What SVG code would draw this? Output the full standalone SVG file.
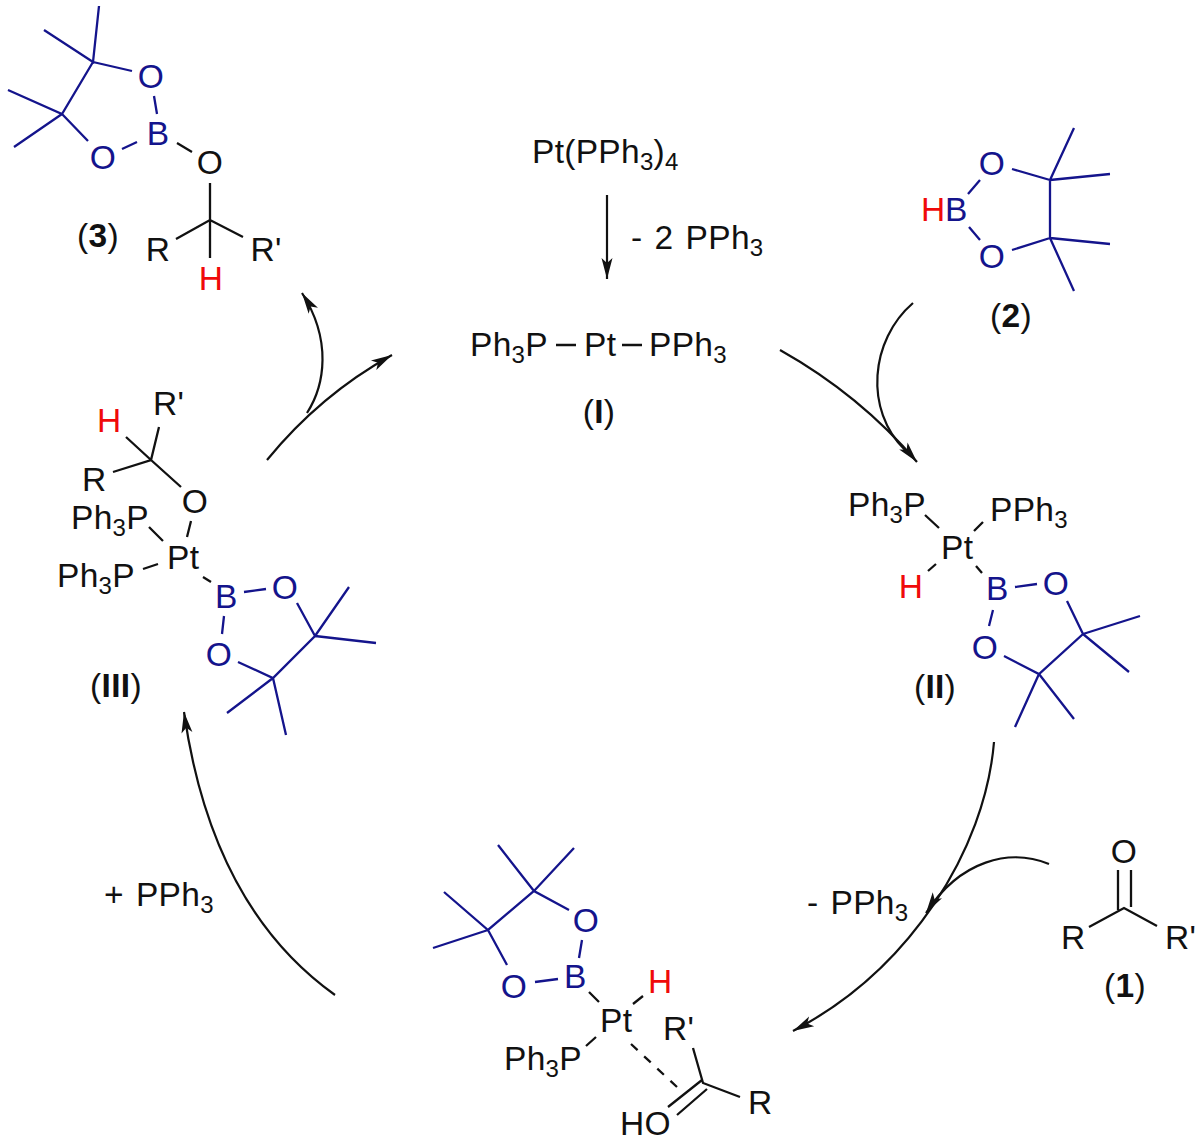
<svg xmlns="http://www.w3.org/2000/svg" width="1200" height="1144" viewBox="0 0 1200 1144">
<style>
text{font-family:"Liberation Sans",Arial,sans-serif;font-size:33.5px;letter-spacing:.3px;word-spacing:2.5px;fill:#111}
.b{fill:#14148c}
.r{fill:#f00a0a}
.lb{fill:none;stroke:#14148c;stroke-width:2.3}
.lk{fill:none;stroke:#111;stroke-width:2.3}
.d{stroke-dasharray:9 9}
.s{font-size:24px}
.n{font-weight:700}
.m{text-anchor:middle}
.a{fill:none;stroke:#111;stroke-width:2.2}
</style>
<defs>
<marker id="ah" markerUnits="userSpaceOnUse" markerWidth="24" markerHeight="16" refX="21" refY="8" orient="auto">
<path d="M0,2.5 L21,8 L0,13.500 L5,8 Z" fill="#111"/>
</marker>
</defs>
<rect width="1200" height="1144" fill="#fff"/>
<g id="connectors">
<path class="a" marker-end="url(#ah)" d="M607,195 L607,279"/>
<path class="a" marker-end="url(#ah)" d="M780,350 Q860,395 917,462"/>
<path class="a" d="M913,303 C870,340 864,410 905,450"/>
<path class="a" marker-end="url(#ah)" d="M994,742 C985,850 910,970 793,1031"/>
<path class="a" marker-end="url(#ah)" d="M1049,864 C1010,848 960,860 926,913"/>
<path class="a" marker-end="url(#ah)" d="M335,995 C265,945 205,860 184,712"/>
<path class="a" marker-end="url(#ah)" d="M267,460 Q320,395 392,355"/>
<path class="a" marker-end="url(#ah)" d="M307,413 C325,385 332,340 302,293"/>
</g>
<g id="pre-catalyst">
<text x="532" y="163">Pt(PPh<tspan class="s" dy="7">3</tspan><tspan dy="-7">)</tspan><tspan class="s" dy="7">4</tspan></text>
<text x="631" y="249">- 2 PPh<tspan class="s" dy="7">3</tspan></text>
</g>
<g id="compound-3">
<path class="lb" d="M99,6 L93,62 L44,30 M93,62 L132,71 M93,62 L62,114 L8,90 M62,114 L14,147 M62,114 L88,141 M154,96 L157,114 M122,149 L137,142"/>
<path class="lk" d="M177,143 L192,152 M210,183 L210,258 M176,239 L210,220 L243,237"/>
<text class="b m" x="151" y="88">O</text>
<text class="b m" x="103" y="169">O</text>
<text class="b m" x="158" y="145">B</text>
<text class="m" x="210" y="174">O</text>
<text class="m" x="158" y="261">R</text>
<text class="m" x="266" y="261">R'</text>
<text class="r m" x="211" y="290">H</text>
<text class="m" x="98" y="247">(<tspan class="n">3</tspan>)</text>
</g>
<g id="compound-2">
<path class="lb" d="M968,194 L980,180 M969,227 L980,240 M1012,169 L1050,180 L1050,238 L1012,250 M1050,180 L1074,128 M1050,180 L1110,174 M1050,238 L1110,244 M1050,238 L1074,291"/>
<text class="r" x="921" y="221">H</text>
<text class="b" x="945" y="221">B</text>
<text class="b m" x="992" y="175">O</text>
<text class="b m" x="992" y="268">O</text>
<text class="m" x="1011" y="327">(<tspan class="n">2</tspan>)</text>
</g>
<g id="complex-I">
<path class="lk" d="M556,345 L576,345 M622,345 L642,345"/>
<text x="470" y="356">Ph<tspan class="s" dy="7">3</tspan><tspan dy="-7">P</tspan></text>
<text x="584" y="356">Pt</text>
<text x="649" y="356">PPh<tspan class="s" dy="7">3</tspan></text>
<text class="m" x="599" y="423">(<tspan class="n">I</tspan>)</text>
</g>
<g id="complex-II">
<path class="lk" d="M925,515 L939,528 M974,531 L983,522 M928,571 L936,564 M976,566 L982,573"/>
<path class="lb" d="M1015,587 L1037,584 M993,610 L989,626 M1067,601 L1083,634 L1039,674 L1004,656 M1083,634 L1140,616 M1083,634 L1129,672 M1039,674 L1015,727 M1039,674 L1074,719"/>
<text x="848" y="516">Ph<tspan class="s" dy="7">3</tspan><tspan dy="-7">P</tspan></text>
<text x="990" y="521">PPh<tspan class="s" dy="7">3</tspan></text>
<text x="941" y="559">Pt</text>
<text class="r m" x="911" y="598">H</text>
<text class="b" x="986" y="600">B</text>
<text class="b m" x="1056" y="595">O</text>
<text class="b m" x="985" y="659">O</text>
<text class="m" x="935" y="698">(<tspan class="n">II</tspan>)</text>
</g>
<g id="complex-III">
<path class="lk" d="M126,437 L151,460 L181,487 M159,427 L151,460 L113,472 M191,521 L187,537 M149,527 L163,541 M143,569 L158,564 M203,577 L211,582"/>
<path class="lb" d="M244,592 L266,589 M224,616 L222,634 M297,603 L315,636 L273,678 L238,662 M315,636 L349,587 M315,636 L376,643 M273,678 L227,713 M273,678 L286,735"/>
<text x="153" y="415">R'</text>
<text class="r" x="97" y="432">H</text>
<text x="82" y="491">R</text>
<text class="m" x="195" y="513">O</text>
<text x="71" y="529">Ph<tspan class="s" dy="7">3</tspan><tspan dy="-7">P</tspan></text>
<text x="167" y="569">Pt</text>
<text x="57" y="587">Ph<tspan class="s" dy="7">3</tspan><tspan dy="-7">P</tspan></text>
<text class="b" x="215" y="608">B</text>
<text class="b m" x="285" y="599">O</text>
<text class="b m" x="219" y="666">O</text>
<text class="m" x="116" y="697">(<tspan class="n">III</tspan>)</text>
</g>
<g id="complex-IV">
<path class="lb" d="M498,845 L534,891 L569,910 M574,848 L534,891 L488,930 L444,892 M488,930 L433,948 M488,930 L507,965 M535,982 L558,979 M582,940 L579,958"/>
<path class="lk" d="M589,992 L599,1002 M633,1004 L643,996 M596,1037 L586,1046 M693,1048 L703,1083 L740,1097 M668,1107 L702,1080 M677,1115 L707,1089"/>
<path class="lk d" d="M631,1044 L677,1087"/>
<text class="b m" x="586" y="932">O</text>
<text class="b m" x="514" y="998">O</text>
<text class="b" x="564" y="988">B</text>
<text class="r" x="648" y="993">H</text>
<text x="600" y="1032">Pt</text>
<text x="663" y="1040">R'</text>
<text x="504" y="1070">Ph<tspan class="s" dy="7">3</tspan><tspan dy="-7">P</tspan></text>
<text x="748" y="1114">R</text>
<text x="620" y="1135">HO</text>
</g>
<g id="compound-1">
<path class="lk" d="M1118,870 L1118,910 M1131,870 L1131,907 M1089,927 L1124,908 L1157,926"/>
<text class="m" x="1124" y="863">O</text>
<text x="1061" y="949">R</text>
<text x="1165" y="949">R'</text>
<text class="m" x="1125" y="997">(<tspan class="n">1</tspan>)</text>
</g>
<g id="step-labels">
<text x="807" y="914">- PPh<tspan class="s" dy="7">3</tspan></text>
<text x="104" y="906">+ PPh<tspan class="s" dy="7">3</tspan></text>
</g>
</svg>
